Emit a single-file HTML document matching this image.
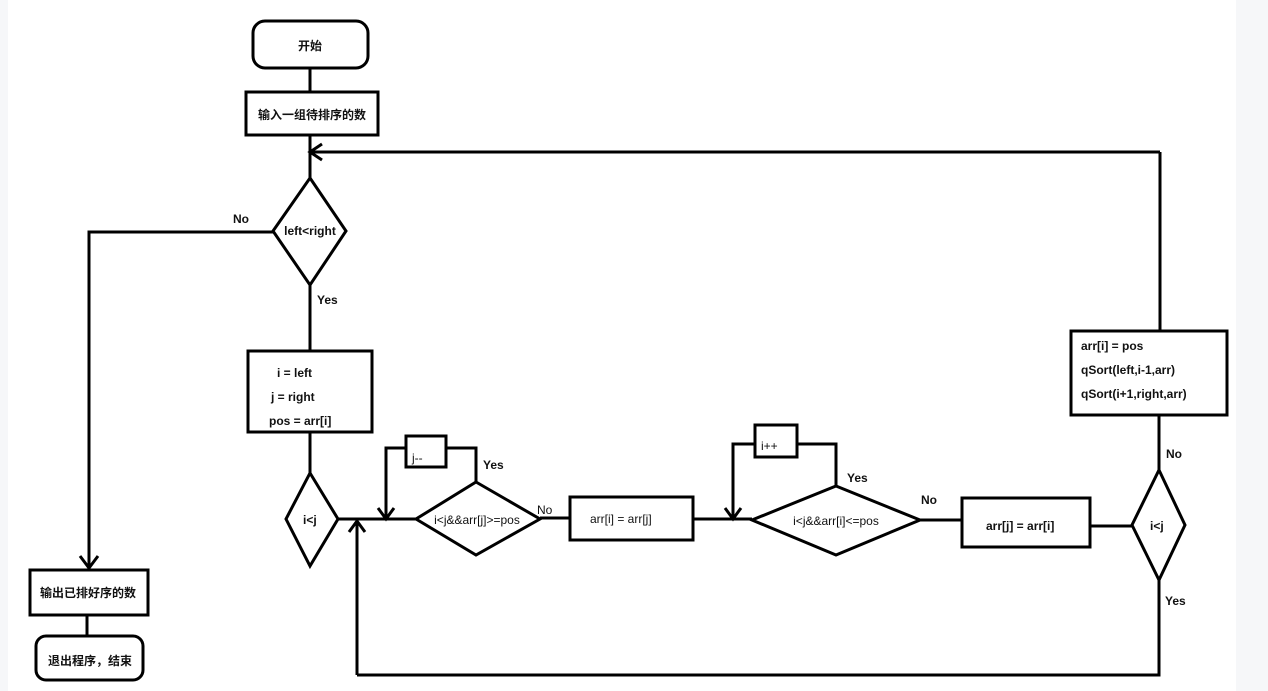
<!DOCTYPE html>
<html><head><meta charset="utf-8"><style>
body{margin:0;background:#fff;}
svg{display:block;font-family:"Liberation Sans","Noto Sans CJK SC",sans-serif;font-weight:bold;}
text{font-size:12px;fill:#111;}
</style></head><body>
<svg width="1268" height="691" viewBox="0 0 1268 691">
<rect x="0" y="0" width="8" height="691" fill="#f6f7f9"/>
<rect x="1236" y="0" width="32" height="691" fill="#f6f7f9"/>
<g stroke="#000" stroke-width="3" fill="none">
<rect x="253" y="21" width="115" height="47" rx="12"/>
<line x1="310" y1="68" x2="310" y2="92"/>
<rect x="246" y="92" width="132" height="43"/>
<line x1="310" y1="135" x2="310" y2="178"/>
<polyline points="1160,152 310,152"/>
<polyline points="322,144 310,152 322,160"/>
<polygon points="310,178 346,231 310,285 273,231"/>
<polyline points="273,232 89,232 89,568"/>
<polyline points="80,556 89,568 98,556"/>
<rect x="30" y="570" width="118" height="45"/>
<line x1="87" y1="615" x2="87" y2="636"/>
<rect x="36" y="636" width="107" height="44" rx="10"/>
<line x1="310" y1="285" x2="310" y2="351"/>
<rect x="248" y="351" width="124" height="81"/>
<line x1="310" y1="432" x2="310" y2="473"/>
<polygon points="310,473 338,519 310,566 286,519"/>
<line x1="338" y1="519" x2="416" y2="519"/>
<polyline points="357,675 357,521"/>
<polyline points="349,532 357,521 365,532"/>
<polyline points="476,482 476,448 446,448"/>
<rect x="406" y="436" width="40" height="31"/>
<polyline points="406,448 386,448 386,519"/>
<polyline points="378,508 386,519 394,508"/>
<polygon points="476,482 540,519 476,555 416,519"/>
<line x1="540" y1="518" x2="570" y2="518"/>
<rect x="570" y="497" width="123" height="43"/>
<line x1="693" y1="519" x2="752" y2="519"/>
<polyline points="836,486 836,444 797,444"/>
<rect x="755" y="425" width="42" height="32"/>
<polyline points="755,444 733,444 733,519"/>
<polyline points="725,508 733,519 741,508"/>
<polygon points="836,486 920,520 836,555 752,520"/>
<line x1="920" y1="520" x2="962" y2="520"/>
<rect x="962" y="498" width="128" height="49"/>
<line x1="1090" y1="526" x2="1132" y2="526"/>
<polygon points="1159,470 1185,525 1159,580 1132,525"/>
<polyline points="1159,580 1159,675 357,675"/>
<line x1="1159" y1="470" x2="1159" y2="415"/>
<rect x="1071" y="331" width="156" height="84"/>
<line x1="1160" y1="331" x2="1160" y2="152"/>
</g>
<text x="310" y="50" text-anchor="middle">开始</text>
<text x="312" y="119" text-anchor="middle">输入一组待排序的数</text>
<text x="310" y="235" text-anchor="middle" font-size="11">left&lt;right</text>
<text x="233" y="223">No</text>
<text x="317" y="304">Yes</text>
<text x="277" y="377">i = left</text>
<text x="271" y="401">j = right</text>
<text x="269" y="425">pos = arr[i]</text>
<text x="303" y="524">i&lt;j</text>
<text x="412" y="462" font-weight="normal">j--</text>
<text x="483" y="469">Yes</text>
<text x="477" y="524" text-anchor="middle" font-weight="normal" font-size="12">i&lt;j&amp;&amp;arr[j]&gt;=pos</text>
<text x="537" y="514" font-weight="normal">No</text>
<text x="590" y="523" font-weight="normal">arr[i] = arr[j]</text>
<text x="761" y="450" font-weight="normal">i++</text>
<text x="847" y="482">Yes</text>
<text x="836" y="525" text-anchor="middle" font-weight="normal">i&lt;j&amp;&amp;arr[i]&lt;=pos</text>
<text x="921" y="504">No</text>
<text x="986" y="530">arr[j] = arr[i]</text>
<text x="1150" y="530">i&lt;j</text>
<text x="1166" y="458">No</text>
<text x="1165" y="605">Yes</text>
<text x="1081" y="350">arr[i] = pos</text>
<text x="1081" y="374">qSort(left,i-1,arr)</text>
<text x="1081" y="398">qSort(i+1,right,arr)</text>
<text x="40" y="597">输出已排好序的数</text>
<text x="48" y="665">退出程序，结束</text>
</svg>
</body></html>
